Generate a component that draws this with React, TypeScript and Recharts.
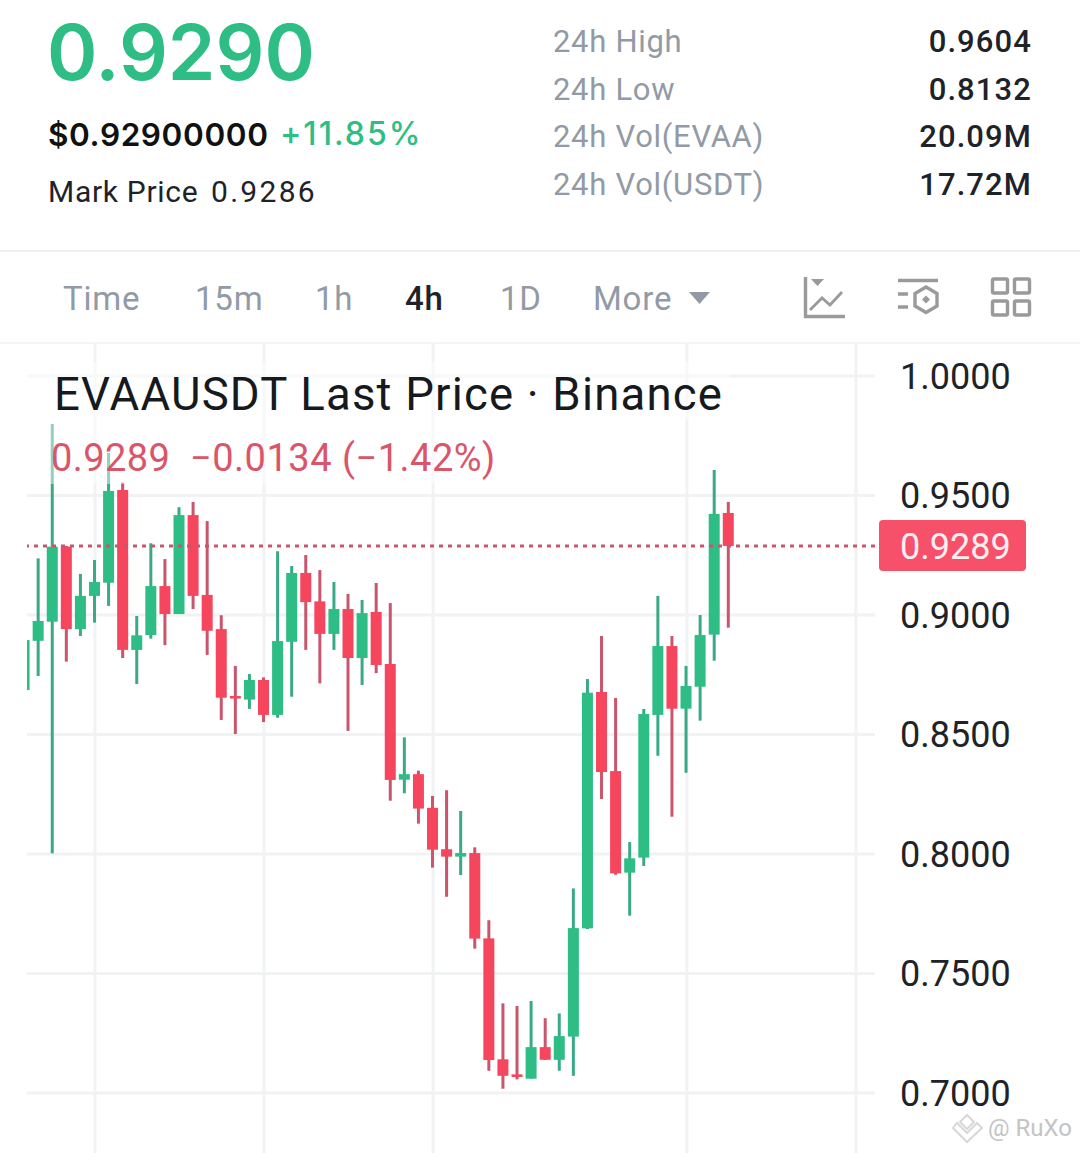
import React from 'react';
import { ComposedChart, Bar, XAxis, YAxis, CartesianGrid, ReferenceLine } from 'recharts';

const opens = [
  0.8686, 0.8892, 0.8972, 0.9286, 0.8941, 0.9080, 0.9135, 0.9523, 0.8854, 0.8916,
  0.9121, 0.9004, 0.9418, 0.9084, 0.8941, 0.8661, 0.8646, 0.8728, 0.8582, 0.8888,
  0.9176, 0.9057, 0.8921, 0.9025, 0.8820, 0.9013, 0.8795, 0.8311, 0.8334, 0.8193,
  0.8020, 0.7989, 0.8004, 0.7647, 0.7141, 0.7078, 0.7060, 0.7192, 0.7139, 0.7236,
  0.7689, 0.8678, 0.8347, 0.7922, 0.7985, 0.8582, 0.8870, 0.8608, 0.8700, 0.8918,
  0.9427,
];
const closes = [
  0.8895, 0.8975, 0.9286, 0.8941, 0.9080, 0.9138, 0.9519, 0.8854, 0.8915, 0.9121,
  0.9004, 0.9418, 0.9080, 0.8934, 0.8654, 0.8653, 0.8728, 0.8582, 0.8891, 0.9176,
  0.9054, 0.8921, 0.9025, 0.8820, 0.9008, 0.8791, 0.8310, 0.8334, 0.8190, 0.8018,
  0.7989, 0.8004, 0.7646, 0.7138, 0.7072, 0.7067, 0.7192, 0.7139, 0.7238, 0.7690,
  0.8675, 0.8343, 0.7919, 0.7982, 0.8586, 0.8870, 0.8608, 0.8703, 0.8916, 0.9423,
  0.9289,
];
const highs = [
  0.8895, 0.9237, 0.9799, 0.9289, 0.9172, 0.9230, 0.9678, 0.9554, 0.8996, 0.9300,
  0.9234, 0.9451, 0.9473, 0.9393, 0.8999, 0.8787, 0.8753, 0.8739, 0.9267, 0.9205,
  0.9251, 0.9188, 0.9138, 0.9088, 0.9063, 0.9134, 0.9050, 0.8488, 0.8349, 0.8243,
  0.8267, 0.8180, 0.8028, 0.7723, 0.7375, 0.7364, 0.7385, 0.7313, 0.7333, 0.7856,
  0.8732, 0.8912, 0.8653, 0.8050, 0.8607, 0.9080, 0.8912, 0.8787, 0.9000, 0.9607,
  0.9473,
];
const lows = [
  0.8686, 0.8745, 0.8003, 0.8805, 0.8912, 0.8968, 0.9038, 0.8820, 0.8711, 0.8901,
  0.8874, 0.9004, 0.9025, 0.8833, 0.8561, 0.8502, 0.8607, 0.8552, 0.8570, 0.8658,
  0.8854, 0.8714, 0.8854, 0.8515, 0.8707, 0.8757, 0.8223, 0.8254, 0.8127, 0.7943,
  0.7821, 0.7912, 0.7604, 0.7093, 0.7018, 0.7057, 0.7060, 0.7139, 0.7093, 0.7072,
  0.7686, 0.8230, 0.7913, 0.7742, 0.7950, 0.8411, 0.8156, 0.8340, 0.8558, 0.8809,
  0.8947,
];
const priceTicks = [0.7, 0.75, 0.8, 0.85, 0.9, 0.95, 1.0];
const gridCandles = [5.07, 17.07, 29.07, 47.1, 59.1];
const lastPrice = 0.9289;

const statLabels = ['24h High', '24h Low', '24h Vol(EVAA)', '24h Vol(USDT)'];
const statValues = ['0.9604', '0.8132', '20.09M', '17.72M'];
const tabs = ['Time', '15m', '1h', '4h', '1D', 'More'];

const GREEN = '#2ebd85';
const RED = '#f6465d';
const GREEN_WICK = '#3ca986';
const RED_WICK = '#c9566c';
const INK = '#1e2329';
const GREY = '#929aa5';
const GRID = '#f1f2f3';
const SANS = 'Roboto, sans-serif';
const X_DOMAIN = [0.24, 60.45];

const candles = opens.map((open, i) => ({
  idx: i,
  open,
  close: closes[i],
  range: [lows[i], highs[i]],
}));

function Candle(props: any) {
  const { x, y, width, height, payload } = props;
  const [low, high] = payload.range;
  const up = payload.close >= payload.open;
  const perUnit = height / (high - low);
  const top = y + (high - Math.max(payload.open, payload.close)) * perUnit;
  const bottom = y + (high - Math.min(payload.open, payload.close)) * perUnit;
  const cx = x + width / 2;
  return (
    <g>
      <rect x={cx - 1.5} y={y} width={3} height={height} fill={up ? GREEN_WICK : RED_WICK} />
      <rect x={x} y={top} width={width} height={Math.max(bottom - top, 2.5)} fill={up ? GREEN : RED} />
    </g>
  );
}

// vertical grid sits at candle positions, not at axis ticks
function verticalGrid({ offset }: any) {
  return gridCandles.map(
    (v) => offset.left + ((v - X_DOMAIN[0]) / (X_DOMAIN[1] - X_DOMAIN[0])) * offset.width,
  );
}

function Label({ x, cy, size, color = INK, weight = 400, right, font = SANS, spacing = 0, children }: any) {
  const style: React.CSSProperties = {
    position: 'absolute',
    top: cy - size,
    height: size * 2,
    lineHeight: `${size * 2}px`,
    fontSize: size,
    fontWeight: weight,
    fontFamily: font,
    letterSpacing: spacing,
    color,
    whiteSpace: 'pre',
  };
  if (right !== undefined) style.right = 1080 - right;
  else style.left = x;
  return <div style={style}>{children}</div>;
}

function Icons() {
  return (
    <svg width={1080} height={80} style={{ position: 'absolute', left: 0, top: 260 }}>
      <g fill="none" stroke="#9a9a9a" strokeWidth={3.4}>
        <path d="M805.500 17V56.500H845" />
        <path d="M810 50L822 38L830 45L842 32" strokeWidth={2.8} />
        <path d="M898 20.500H938M898 34H908M898 47H908" />
        <path d="M926 27L937 33.500V46L926 52.500L915 46V33.500Z" />
        <rect x={992.500} y={19} width={15} height={14} rx={1.5} />
        <rect x={1014.500} y={19} width={15} height={14} rx={1.5} />
        <rect x={992.500} y={41} width={15} height={14} rx={1.5} />
        <rect x={1014.500} y={41} width={15} height={14} rx={1.5} />
      </g>
      <path d="M811 19H824L817.500 26Z" fill="#9a9a9a" />
      <path d="M926 35.500L930 39.500L926 43.500L922 39.500Z" fill="#9a9a9a" />
      <path d="M689 32H710L699.500 44Z" fill={GREY} />
    </svg>
  );
}

function Watermark() {
  return (
    <svg width={36} height={36} style={{ position: 'absolute', left: 952, top: 1112 }} opacity={0.45}>
      <g fill="none" stroke="#a9a9a9" strokeWidth={2}>
        <path d="M15 3L22 10L15 17L8 10Z" />
        <path d="M5 11L11 17L15 21L19 17L25 11L30 16L15 30L1 16Z" />
      </g>
    </svg>
  );
}

export default function App() {
  return (
    <div style={{ position: 'absolute', left: 0, top: 0, width: 1080, height: 1153, overflow: 'hidden', background: '#fff' }}>
      <Label x={47} cy={52} size={76.500} color={GREEN} weight={600} font="Inter, sans-serif">0.9290</Label>
      <Label x={48} cy={134} size={31.500} weight={600} color="#111" spacing={0.6} font="Inter, sans-serif">$0.92900000</Label>
      <Label x={280} cy={134} size={32} weight={500} color={GREEN} spacing={2} font="Inter, sans-serif">+11.85%</Label>
      <Label x={48} cy={192} size={30} color={INK} spacing={0.7}>Mark Price</Label>
      <Label x={211} cy={192} size={30} color={INK} spacing={2.3}>0.9286</Label>

      {statLabels.map((label, i) => (
        <Label key={label} x={553} cy={42 + i * 47.700} size={31} color={GREY} spacing={0.7}>{label}</Label>
      ))}
      {statValues.map((value, i) => (
        <Label key={i} right={1032} cy={42 + i * 47.700} size={31} weight={500} color={INK} spacing={1.1}>{value}</Label>
      ))}

      <div style={{ position: 'absolute', left: 0, top: 250, width: 1080, height: 2, background: '#eeeff0' }} />
      {tabs.map((tab, i) => (
        <Label
          key={tab}
          x={[63, 195, 315, 405, 500, 593][i]}
          cy={298.500}
          size={33}
          spacing={0.8}
          weight={tab === '4h' ? 500 : 400}
          color={tab === '4h' ? INK : GREY}
        >
          {tab}
        </Label>
      ))}
      <Icons />
      <div style={{ position: 'absolute', left: 0, top: 342, width: 1080, height: 2, background: '#f5f5f5' }} />

      <div style={{ position: 'absolute', left: 0, top: 0 }}>
        <ComposedChart
          width={1080}
          height={1153}
          data={candles}
          margin={{ top: 343, right: 0, bottom: 0, left: 27 }}
        >
          <CartesianGrid
            stroke={GRID}
            strokeWidth={3}
            horizontalValues={priceTicks}
            verticalCoordinatesGenerator={verticalGrid}
          />
          <XAxis
            dataKey="idx"
            type="number"
            domain={X_DOMAIN}
            allowDataOverflow
            height={0}
            tick={false}
            axisLine={false}
            tickLine={false}
          />
          <YAxis
            orientation="right"
            width={205}
            domain={[0.6749, 1.01381]}
            allowDataOverflow
            ticks={priceTicks}
            interval={0}
            tickFormatter={(v: number) => v.toFixed(4)}
            tick={{ fill: INK, fontSize: 36, fontFamily: SANS }}
            tickMargin={19}
            axisLine={false}
            tickLine={false}
          />
          <Bar dataKey="range" barSize={11} shape={<Candle />} isAnimationActive={false} />
          <ReferenceLine y={lastPrice} stroke={RED_WICK} strokeWidth={3} strokeDasharray="4 5" />
        </ComposedChart>
      </div>

      <div style={{ position: 'absolute', left: 27, top: 362, width: 703, height: 58, background: 'rgba(255,255,255,0.45)' }} />
      <div style={{ position: 'absolute', left: 27, top: 420, width: 473, height: 64, background: 'rgba(255,255,255,0.45)' }} />
      <Label x={54} cy={394} size={45.500} color="#161a1e" spacing={1.2}>EVAAUSDT Last Price · Binance</Label>
      <Label x={51} cy={458} size={38} color="#d9566a" spacing={0.4}>0.9289</Label>
      <Label x={190} cy={458} size={38} color="#d9566a" spacing={0.5}>−0.0134 (−1.42%)</Label>

      <div style={{ position: 'absolute', left: 879, top: 520, width: 147, height: 51, borderRadius: 4, background: '#f6506a' }} />
      <Label x={900} cy={546.500} size={36} color="#fdeef0">0.9289</Label>

      <Watermark />
      <Label x={988} cy={1128} size={24} color="#c4c4c4">@ RuXo</Label>
    </div>
  );
}
